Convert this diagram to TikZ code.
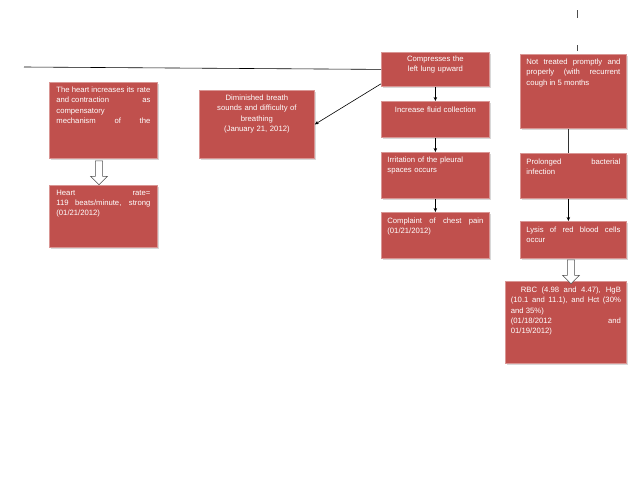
\documentclass[tikz,border=0pt]{standalone}
\usepackage{fontspec}
\setmainfont{Liberation Sans}
\usetikzlibrary{shapes.arrows,arrows.meta,shadows}
\definecolor{boxred}{HTML}{C0504D}
\definecolor{boxedge}{HTML}{D99694}
\hyphenpenalty=10000
\exhyphenpenalty=10000
\begin{document}
\begin{tikzpicture}[x=1pt,y=-1pt,
  box/.style={draw=boxedge,line width=0.8pt,fill=boxred,drop shadow={shadow xshift=1.5pt,shadow yshift=-1.5pt,fill=gray!60},anchor=north west,inner sep=0pt},
  txt/.style={anchor=north,text=white,font=\fontsize{7.7}{10.2}\selectfont,inner sep=0pt},
  hollow/.style={single arrow,draw=black!70,fill=white,line width=0.5pt,shape border rotate=270,minimum height=24pt,minimum width=17pt,single arrow head extend=3pt,inner sep=2pt},
  arr/.style={-{Stealth[length=4pt,width=3.5pt]},black,line width=0.6pt}]
\useasboundingbox (0,0) rectangle (638,493);
% boxes
\node[box,minimum width=108,minimum height=34] (comp) at (381,52) {};
\node[box,minimum width=108,minimum height=36] (fluid) at (381,101) {};
\node[box,minimum width=108,minimum height=46] (irr) at (381,152) {};
\node[box,minimum width=108,minimum height=46] (chest) at (381,212) {};
\node[box,minimum width=106,minimum height=74] (nt) at (520,54) {};
\node[box,minimum width=106,minimum height=45] (pro) at (520,153) {};
\node[box,minimum width=106,minimum height=37] (lys) at (520,221) {};
\node[box,minimum width=121,minimum height=82] (rbc) at (505,281) {};
\node[box,minimum width=108,minimum height=76] (hi) at (49,82) {};
\node[box,minimum width=108,minimum height=62] (hr) at (49,185) {};
\node[box,minimum width=115,minimum height=68] (dim) at (199,90) {};
% texts
\node[txt,text width=90,align=center] (tcomp) at ([yshift=-4]comp.north) {Compresses the left lung upward};
\node[txt,text width=90,align=center] (tfluid) at ([yshift=-6]fluid.north) {Increase fluid collection};
\node[txt,text width=96,align=left] (tirr) at ([yshift=-5]irr.north) {Irritation of the pleural spaces occurs};
\node[txt,text width=96,align=justify] (tchest) at ([yshift=-6]chest.north) {Complaint of chest pain (01/21/2012)};
\node[txt,text width=94,align=justify] (tnt) at ([yshift=-5]nt.north) {Not treated promptly and properly (with recurrent cough in 5 months};
\node[txt,text width=94,align=justify] (tpro) at ([yshift=-6]pro.north) {Prolonged\hfill bacterial infection};
\node[txt,text width=94,align=justify] (tlys) at ([yshift=-6]lys.north) {Lysis of red blood cells occur};
\node[txt,text width=110,align=justify] (trbc) at ([yshift=-6]rbc.north) {\hspace*{10pt}RBC (4.98 and 4.47), HgB (10.1 and 11.1), and Hct (30\% and 35\%)\newline (01/18/2012\hfill and\newline 01/19/2012)};
\node[txt,text width=94,align=justify] (thi) at ([yshift=-5]hi.north) {The heart increases its\hfill rate\hfill and contraction\hfill as compensatory\newline mechanism\hfill of\hfill the};
\node[txt,text width=94,align=justify] (thr) at ([yshift=-5]hr.north) {Heart\hfill rate=\hfill 119 beats/minute, strong (01/21/2012)};
\node[txt,text width=108,align=center] (tdim) at ([yshift=-5]dim.north) {Diminished breath\\sounds and difficulty of\\breathing\\(January 21, 2012)};
% line and ticks
\coordinate (lstart) at (24,67);
\draw[black,line width=0.6pt] (lstart) -- (comp.west);
\coordinate (t1a) at (577,10); \coordinate (t1b) at (577,18);
\coordinate (t2a) at (577,45); \coordinate (t2b) at (577,51);
\draw[black!70] (t1a) -- (t1b) (t2a) -- (t2b);
% connectors
\draw[arr] ([yshift=3]comp.south west) -- (dim.east);
\draw[arr] (comp.south) -- (fluid.north);
\draw[arr] (fluid.south) -- (irr.north);
\draw[arr] (irr.south) -- (chest.north);
\draw[black!80,line width=0.6pt] ([xshift=-5]nt.south) -- ([xshift=-5]pro.north);
\draw[arr] ([xshift=-5]pro.south) -- ([xshift=-5]lys.north);
\node[hollow] (ha1) at (99,171) {};
\node[hollow] (ha2) at (571,270) {};
\end{tikzpicture}
\end{document}
